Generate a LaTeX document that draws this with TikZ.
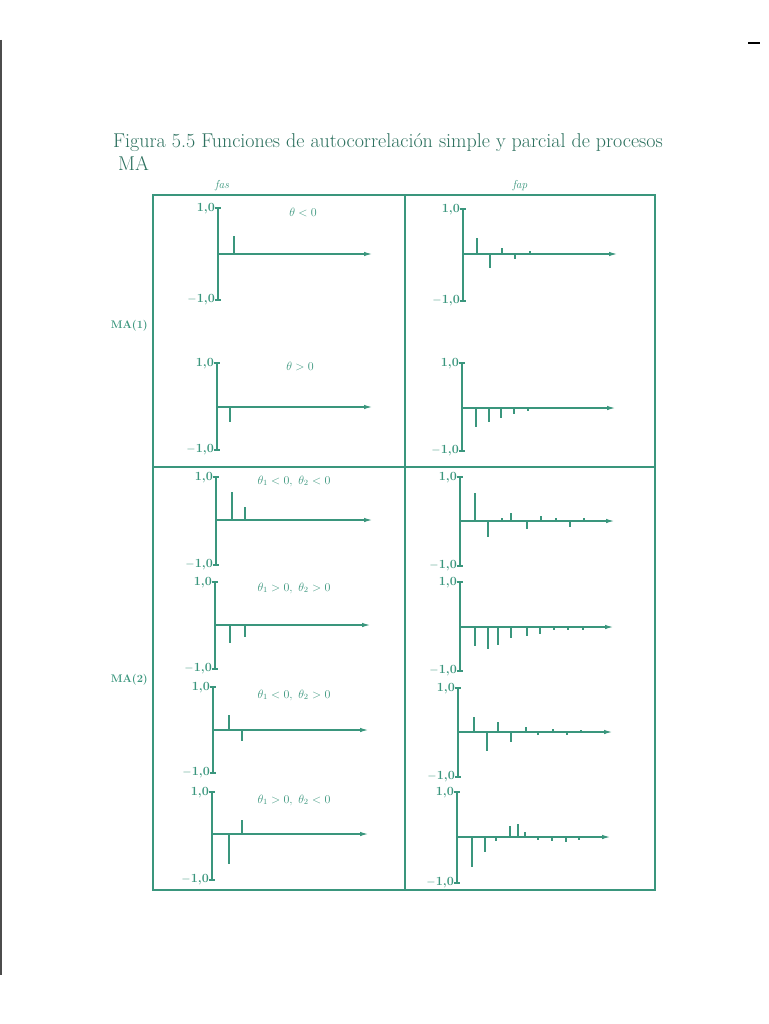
\documentclass[tikz,border=0pt]{standalone}
\usetikzlibrary{arrows.meta}
\definecolor{tl}{RGB}{58,150,125}
\tikzset{
 ax/.style={draw=tl,line width=1.1pt},
 bar/.style={draw=tl,line width=1.7pt},
 lab/.style={text=tl,font=\fontsize{12.5}{14}\selectfont\bfseries,inner sep=0pt},
 cond/.style={text=tl,font=\fontsize{11.5}{13}\selectfont,inner sep=0pt},
 ttl/.style={text=tl!75!black,font=\fontsize{20}{22}\selectfont,anchor=west,inner sep=0pt},
}
% #1 axis x, #2 top, #3 zero, #4 bottom, #5 arrow end, #6 bars dx/h
\newcommand{\acfpanel}[6]{%
 \draw[ax] (#1-3,#2)--(#1+3,#2) (#1,#2)--(#1,#4) (#1-3,#4)--(#1+3,#4);
 \draw[ax,-{Latex[length=8pt,width=4.5pt]}] (#1,#3)--(#5,#3);
 \node[lab,anchor=east] at (#1-3,#2+1) {1,0};
 \node[lab,anchor=east] at (#1-3,#4) {$-$1,0};
 \foreach \bx/\bh in {#6} {\draw[bar] (\bx,#3)--(\bx,#3+\bh);}
}
\begin{document}
\begin{tikzpicture}[x=1pt,y=-1pt]
\fill[white] (0,0) rectangle (768,1024);
\draw[black!70,line width=1.2pt] (1,40)--(1,975);
\draw[black,line width=1.5pt] (748,43)--(760,43);
\node[ttl] (t1) at (113,143) {Figura 5.5 Funciones de autocorrelación simple y parcial de procesos};
\node[ttl] (t2) at (118,163) {MA};
\node[cond] (fas) at (222,186) {\itshape fas};
\node[cond] (fap) at (520,186) {\itshape fap};
\draw[tl,line width=1.3pt] (153,195) rectangle (655,890);
\draw[tl,line width=1.3pt] (405,195)--(405,890);
\draw[tl,line width=1.3pt] (153,467)--(655,467);
\node[lab,font=\fontsize{11}{13}\selectfont\bfseries,anchor=east] (ma1) at (148,326) {MA(1)};
\node[lab,font=\fontsize{11}{13}\selectfont\bfseries,anchor=east] (ma2) at (148,680) {MA(2)};
% fas
\acfpanel{218}{208}{254}{300}{372}{234/-18}
\node[cond] at (303,212) {$\theta<0$};
\acfpanel{217}{363}{407}{450}{372}{230/15}
\node[cond] at (300,366) {$\theta>0$};
\acfpanel{216}{477}{520}{565}{372}{232/-28,245/-13}
\node[cond] at (294,481) {$\theta_1<0,\ \theta_2<0$};
\acfpanel{215}{582}{625}{669}{370}{230/18,245/12}
\node[cond] at (294,588) {$\theta_1>0,\ \theta_2>0$};
\acfpanel{213}{687}{730}{773}{368}{229/-15,242/11}
\node[cond] at (294,695) {$\theta_1<0,\ \theta_2>0$};
\acfpanel{212}{792}{834}{880}{368}{229/30,242/-14}
\node[cond] at (294,800) {$\theta_1>0,\ \theta_2<0$};
% fap
\acfpanel{463}{209}{254}{301}{617}{477/-16,490/14,502/-6,515/5,530/-3}
\acfpanel{462}{363}{408}{451}{615}{476/19,489/14,501/10,514/6,528/3}
\acfpanel{460}{477}{521}{566}{614}{475/-28,488/16,502/-3,511/-8,527/8,541/-5,556/-3,570/6,584/-3}
\acfpanel{460}{582}{627}{671}{613}{475/19,488/22,498/18,511/11,527/9,540/7,554/3,568/3,583/3}
\acfpanel{458}{688}{732}{777}{612}{474/-15,487/19,498/-10,511/10,526/-5,538/3,553/-3,567/3,581/-2}
\acfpanel{457}{792}{837}{883}{610}{472/30,485/15,496/4,510/-11,518/-13,525/-5,538/3,552/4,566/5,579/3}
\end{tikzpicture}
\end{document}
